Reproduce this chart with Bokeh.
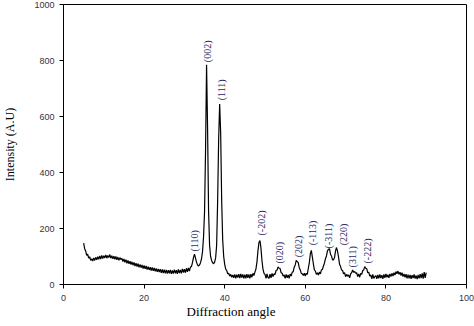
from bokeh.plotting import figure
from bokeh.models import Range1d, FixedTicker, Title, ColumnDataSource
from bokeh.core.properties import value
from bokeh.embed import file_html
from bokeh.resources import INLINE
import math

angle = [
    5.00, 5.25, 5.50, 5.75, 6.00, 6.25, 6.50, 6.75, 7.00, 7.25, 7.50, 7.75, 8.00, 8.25, 8.50, 8.75, 9.00, 9.25, 9.50, 9.75,
    10.00, 10.25, 10.50, 10.75, 11.00, 11.25, 11.50, 11.75, 12.00, 12.25, 12.50, 12.75, 13.00, 13.25, 13.50, 13.75, 14.00, 14.25, 14.50, 14.75,
    15.00, 15.25, 15.50, 15.75, 16.00, 16.25, 16.50, 16.75, 17.00, 17.25, 17.50, 17.75, 18.00, 18.25, 18.50, 18.75, 19.00, 19.25, 19.50, 19.75,
    20.00, 20.25, 20.50, 20.75, 21.00, 21.25, 21.50, 21.75, 22.00, 22.25, 22.50, 22.75, 23.00, 23.25, 23.50, 23.75, 24.00, 24.25, 24.50, 24.75,
    25.00, 25.25, 25.50, 25.75, 26.00, 26.25, 26.50, 26.75, 27.00, 27.25, 27.50, 27.75, 28.00, 28.25, 28.50, 28.75, 29.00, 29.25, 29.50, 29.75,
    30.00, 30.25, 30.50, 30.75, 31.00, 31.25, 31.50, 31.75, 32.00, 32.25, 32.50, 32.75, 33.00, 33.25, 33.50, 33.75, 34.00, 34.25, 34.50, 34.75,
    35.00, 35.25, 35.50, 35.75, 36.00, 36.25, 36.50, 36.75, 37.00, 37.25, 37.50, 37.75, 38.00, 38.25, 38.50, 38.75, 39.00, 39.25, 39.50, 39.75,
    40.00, 40.25, 40.50, 40.75, 41.00, 41.25, 41.50, 41.75, 42.00, 42.25, 42.50, 42.75, 43.00, 43.25, 43.50, 43.75, 44.00, 44.25, 44.50, 44.75,
    45.00, 45.25, 45.50, 45.75, 46.00, 46.25, 46.50, 46.75, 47.00, 47.25, 47.50, 47.75, 48.00, 48.25, 48.50, 48.75, 49.00, 49.25, 49.50, 49.75,
    50.00, 50.25, 50.50, 50.75, 51.00, 51.25, 51.50, 51.75, 52.00, 52.25, 52.50, 52.75, 53.00, 53.25, 53.50, 53.75, 54.00, 54.25, 54.50, 54.75,
    55.00, 55.25, 55.50, 55.75, 56.00, 56.25, 56.50, 56.75, 57.00, 57.25, 57.50, 57.75, 58.00, 58.25, 58.50, 58.75, 59.00, 59.25, 59.50, 59.75,
    60.00, 60.25, 60.50, 60.75, 61.00, 61.25, 61.50, 61.75, 62.00, 62.25, 62.50, 62.75, 63.00, 63.25, 63.50, 63.75, 64.00, 64.25, 64.50, 64.75,
    65.00, 65.25, 65.50, 65.75, 66.00, 66.25, 66.50, 66.75, 67.00, 67.25, 67.50, 67.75, 68.00, 68.25, 68.50, 68.75, 69.00, 69.25, 69.50, 69.75,
    70.00, 70.25, 70.50, 70.75, 71.00, 71.25, 71.50, 71.75, 72.00, 72.25, 72.50, 72.75, 73.00, 73.25, 73.50, 73.75, 74.00, 74.25, 74.50, 74.75,
    75.00, 75.25, 75.50, 75.75, 76.00, 76.25, 76.50, 76.75, 77.00, 77.25, 77.50, 77.75, 78.00, 78.25, 78.50, 78.75, 79.00, 79.25, 79.50, 79.75,
    80.00, 80.25, 80.50, 80.75, 81.00, 81.25, 81.50, 81.75, 82.00, 82.25, 82.50, 82.75, 83.00, 83.25, 83.50, 83.75, 84.00, 84.25, 84.50, 84.75,
    85.00, 85.25, 85.50, 85.75, 86.00, 86.25, 86.50, 86.75, 87.00, 87.25, 87.50, 87.75, 88.00, 88.25, 88.50, 88.75, 89.00, 89.25, 89.50, 89.75,
    90.00,
]

intensity = [
    148, 128, 120, 104, 108, 94, 99, 86, 92, 84, 95, 86, 97, 88, 99, 90, 102, 91, 104, 93,
    103, 95, 106, 94, 104, 96, 107, 94, 103, 92, 101, 90, 100, 88, 98, 86, 96, 89, 93, 82,
    91, 79, 89, 76, 86, 74, 83, 71, 81, 69, 79, 66, 76, 64, 74, 61, 72, 60, 70, 57,
    68, 56, 66, 53, 64, 52, 62, 50, 61, 49, 59, 47, 57, 45, 56, 44, 55, 42, 54, 41,
    53, 40, 52, 39, 51, 40, 52, 38, 50, 39, 53, 40, 51, 38, 54, 41, 52, 40, 56, 43,
    55, 42, 58, 45, 59, 48, 62, 64, 78, 96, 108, 95, 80, 70, 66, 70, 78, 92, 118, 170,
    260, 480, 785, 560, 260, 140, 100, 86, 78, 74, 80, 95, 140, 300, 520, 645, 540, 300, 160, 100,
    72, 55, 50, 38, 40, 30, 36, 26, 34, 24, 36, 22, 35, 25, 37, 23, 38, 25, 36, 22,
    35, 22, 37, 24, 36, 22, 37, 26, 40, 32, 44, 55, 80, 120, 150, 157, 130, 85, 55, 40,
    36, 22, 38, 25, 22, 37, 24, 40, 28, 38, 36, 50, 52, 63, 58, 57, 42, 40, 30, 34,
    22, 36, 24, 34, 22, 37, 30, 44, 46, 62, 70, 86, 82, 78, 60, 52, 40, 38, 32, 40,
    30, 40, 36, 58, 78, 110, 122, 98, 74, 52, 48, 36, 42, 34, 44, 38, 52, 54, 66, 76,
    92, 102, 120, 126, 128, 108, 102, 88, 88, 96, 120, 132, 118, 98, 72, 64, 52, 50, 38, 42,
    28, 36, 30, 34, 24, 38, 42, 52, 44, 46, 40, 42, 28, 38, 26, 40, 36, 50, 52, 64,
    58, 56, 42, 44, 30, 34, 20, 36, 22, 28, 32, 20, 34, 22, 36, 23, 33, 20, 36, 24,
    38, 26, 35, 24, 38, 28, 40, 30, 42, 34, 46, 38, 48, 36, 44, 32, 42, 28, 38, 26,
    37, 22, 35, 22, 34, 20, 33, 23, 36, 21, 32, 19, 34, 22, 37, 23, 40, 21, 44, 24,
    42,
]

peak_labels = ["(110)", "(002)", "(111)", "(-202)", "(020)", "(202)", "(-113)", "(-311)", "(220)", "(311)", "(-222)"]
label_angle = [32.4, 35.7, 39.2, 49.1, 53.7, 58.2, 61.7, 65.8, 69.4, 71.6, 75.4]
label_base = [118, 794, 658, 175, 75, 97, 140, 129, 140, 61, 75]

x_ticks = [0, 20, 40, 60, 80, 100]
y_ticks = [0, 200, 400, 600, 800, 1000]

p = figure(width=474, height=326, output_backend="svg", toolbar_location=None,
           x_range=Range1d(0, 100), y_range=Range1d(0, 1000),
           min_border_left=62, min_border_right=8, min_border_top=4, min_border_bottom=42)

p.background_fill_color = "white"
p.border_fill_color = "white"
p.outline_line_color = "black"
p.outline_line_width = 1
p.grid.visible = False

p.line(angle, intensity, line_color="black", line_width=1.2)

src = ColumnDataSource(dict(x=label_angle, y=label_base, t=peak_labels))
p.text(x="x", y="y", text="t", source=src, angle=math.pi / 2,
       text_align="left", text_baseline="middle",
       text_font=value("Liberation Serif"), text_font_size="10px", text_color="#2a2a66")

for ax in (p.xaxis[0], p.yaxis[0]):
    ax.axis_line_color = "black"
    ax.major_tick_line_color = "black"
    ax.major_tick_out = 4
    ax.major_tick_in = 0
    ax.minor_tick_line_color = None
    ax.major_label_text_font = "Liberation Sans"
    ax.major_label_text_font_size = "9px"
    ax.major_label_text_color = "#333344"

p.xaxis.ticker = FixedTicker(ticks=x_ticks)
p.yaxis.ticker = FixedTicker(ticks=y_ticks)
p.xaxis.major_label_standoff = 6
p.yaxis.major_label_standoff = 5

p.yaxis.axis_label = "Intensity (A.U)"
p.yaxis.axis_label_text_font = "Liberation Serif"
p.yaxis.axis_label_text_font_style = "normal"
p.yaxis.axis_label_text_font_size = "12px"
p.yaxis.axis_label_text_color = "black"
p.yaxis.axis_label_standoff = 14

p.add_layout(Title(text="Diffraction angle", align="left", offset=123,
                   text_font="Liberation Serif", text_font_size="13px",
                   text_font_style="normal", text_color="black", standoff=-3), "below")

open("out.html", "w").write(file_html(p, INLINE))
